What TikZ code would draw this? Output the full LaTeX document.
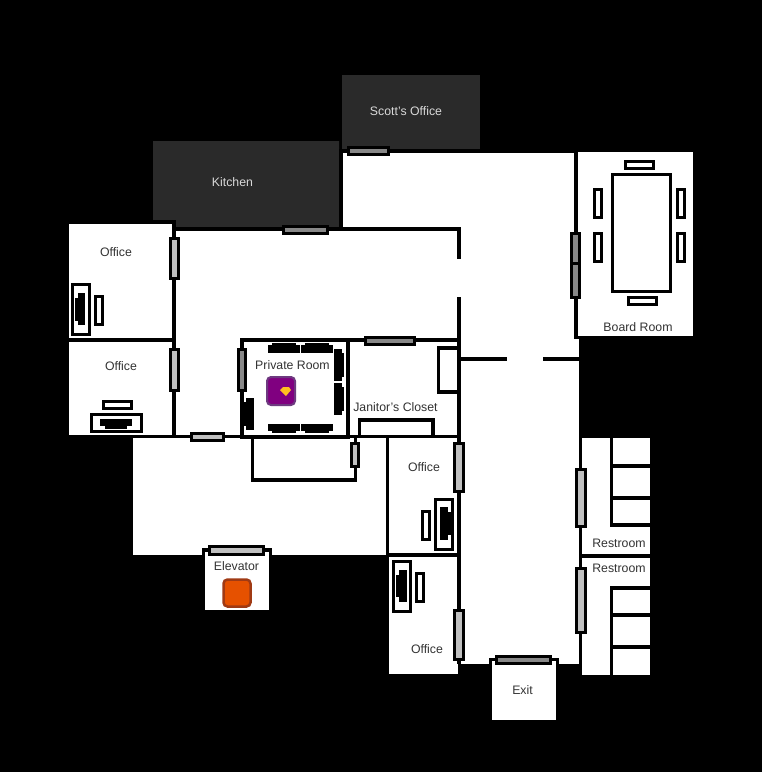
\documentclass[tikz,border=0pt]{standalone}
\usepackage{fontspec}
\setmainfont{Liberation Sans}
\usepackage{tikz}
\usetikzlibrary{positioning}
\definecolor{darkroom}{HTML}{2A2A2A}
\definecolor{doorlight}{HTML}{C0C0C0}
\definecolor{doordark}{HTML}{888888}
\definecolor{labelgray}{HTML}{333333}
\definecolor{iconpurple}{HTML}{800080}
\definecolor{iconedge}{HTML}{6E3A80}
\definecolor{icongold}{HTML}{FFC020}
\definecolor{iconorange}{HTML}{E65100}
\definecolor{iconrust}{HTML}{A03A14}

\begin{document}
\begin{tikzpicture}[x=1pt,y=-1pt,
wall/.style={line width=3.3pt, black, line cap=butt},
item/.style={draw=black, fill=white, line width=3pt},
doorL/.style={draw=black, fill=doorlight, line width=3pt},
doorD/.style={draw=black, fill=doordark, line width=3pt},
lbl/.style={text=labelgray, font=\fontsize{12.3}{14}\selectfont, inner sep=0pt},
lblw/.style={text=white!85!black, font=\fontsize{12.3}{14}\selectfont, inner sep=0pt}]
\useasboundingbox (0,0) rectangle (762,772);
\fill[black] (0,0) rectangle (762,772);
% floor
\fill[white] (69,222) rectangle (175,436);
\fill[white] (175,229) rectangle (459,437);
\fill[white] (133,437) rectangle (388,555);
\fill[white] (388,437) rectangle (459,555);
\fill[white] (341,152) rectangle (579,229);
\fill[white] (459,229) rectangle (579,664);
\fill[white] (576,152) rectangle (693,336);
\fill[white] (579,437.5) rectangle (650,675);
\fill[white] (389,555) rectangle (458,674);
\fill[white] (492,660) rectangle (556,720);
\fill[white] (205,553) rectangle (269,610);
\fill[darkroom] (153,141) -- (339,141) -- (339,228) -- (175,228) -- (175,220) -- (153,220) -- cycle;
\fill[darkroom] (342,75) rectangle (480,149);
% walls
\draw[wall] (153,221.5) -- (175.6,221.5);
\draw[wall] (69,222) -- (174,222);
\draw[wall] (174,220) -- (174,437);
\draw[wall] (69,340) -- (174,340);
\draw[wall] (69,436.5) -- (459,436.5);
\draw[wall] (172.4,229) -- (460.6,229);
\draw[wall] (459,229) -- (459,259);
\draw[wall] (459,297) -- (459,664);
\draw[wall] (341,149) -- (341,229);
\draw[wall] (339.4,151) -- (577.6,151);
\draw[wall] (576,151) -- (576,338);
\draw[wall] (574.4,337.5) -- (579,337.5);
\draw[wall] (459,359) -- (507,359);
\draw[wall] (543,359) -- (582,359);
\draw[wall] (580.5,359) -- (580.5,675);
\draw[wall] (580,556) -- (650,556);
\draw[wall] (242,340) rectangle (348,437);
\draw[wall] (348,340) -- (459,340);
\draw[wall] (438.5,346.4) -- (438.5,393.6);
\draw[wall] (437,392) -- (459,392);
\draw[wall] (437,348) -- (459,348);
\draw[wall] (359.5,436) -- (359.5,418.4);
\draw[wall] (358,420) -- (434.6,420);
\draw[wall] (433,418.4) -- (433,436);
\draw[wall] (252.5,437) -- (252.5,481.6);
\draw[wall] (250.9,480) -- (357.1,480);
\draw[wall] (355.5,481.6) -- (355.5,437);
\draw[wall] (387.5,437) -- (387.5,556);
\draw[wall] (387.5,555) -- (459,555);
% restroom stalls
\draw[wall] (611.5,437) -- (611.5,527);
\draw[wall] (611.5,586) -- (611.5,675);
\foreach \y in {466,498,615,647}{\draw[wall] (611.5,\y) -- (650,\y);}
\draw[wall, line width=4pt] (611.5,525) -- (650,525);
\draw[wall, line width=4pt] (611.5,588) -- (650,588);
% stubs beside exit and elevator
\draw[wall] (490.5,664) -- (490.5,659.5) -- (557.5,659.5) -- (557.5,664);
\draw[wall] (203.5,555) -- (203.5,550) -- (270.5,550) -- (270.5,555);
% doors
\foreach \a/\b/\c/\d in {170.5/238.5/178/278, 170.5/349.5/178/390, 191.5/433.5/223.5/440, 351.5/443.5/358.5/466, 454.5/443.5/463/491, 576.5/469.5/585/526, 576.5/568.5/585/632, 454/610.5/463.5/659, 209.5/546.5/263.5/554.5}{
\draw[doorL] (\a,\b) rectangle (\c,\d);
}
\foreach \a/\b/\c/\d in {283.5/226.5/327.5/233.5, 348.5/147.5/388.5/154.5, 238.5/349.5/245.5/390, 365.5/337.5/414.5/344, 571.5/233.5/579.5/263.5, 571.5/263.5/579.5/297.5, 496.5/656.5/550.5/663.5}{
\draw[doorD] (\a,\b) rectangle (\c,\d);
}
% desks, chairs, table
\foreach \a/\b/\c/\d in {72.5/284.5/89.5/334.5, 95.5/296.5/102.5/324.5, 91.5/414.5/141.5/431.5, 103.5/401.5/131.5/408.5, 435.5/499.5/452.5/549.5, 422.5/511.5/429.5/539.5, 393.5/561.5/410.5/611.5, 416.5/573.5/423.5/601.5, 612.5/174.5/670.5/291.5, 625.5/161.5/653.5/168.5, 628.5/297.5/656.5/304.5, 594.5/189.5/601.5/217.5, 594.5/233.5/601.5/261.5, 677.5/189.5/684.5/217.5, 677.5/233.5/684.5/261.5}{
\draw[item] (\a,\b) rectangle (\c,\d);
}
% monitors and sofas, thin part then thick part
\foreach \a/\b/\c/\d/\e/\f/\g/\h in {
75/298/78/321/78/293/85/325, 105/426/127/429/100/419/132/426,
448/512/451/535/440/507/448/540, 396/575/399/597/399/570/407/602,
272/343/296/345/268/345/300/353, 305/343/329/345/301/345/333/353,
272/431/296/433/268/424/300/431, 305/431/329/433/301/424/333/431,
342/353/344/377/334/349/342/381, 342/387/344/411/334/383/342/415,
244/402/246/426/246/398/254/430}{
\fill[black] (\a,\b) rectangle (\c,\d);
\fill[black] (\e,\f) rectangle (\g,\h);
}
% icons
\draw[fill=iconpurple, draw=iconedge, line width=2pt, rounded corners=4pt] (267,377) rectangle (295,405);
\fill[icongold] (283,387) -- (289,387) -- (291,390) -- (286,396) -- (280,390) -- cycle;
\draw[fill=iconorange, draw=iconrust, line width=2.5pt, rounded corners=4pt] (223.5,579.5) rectangle (250.5,606.5);
% labels
\node[lbl] (officeA) at (116,252) {Office};
\node[lbl] (officeB) at (121,366) {Office};
\node[lbl] (officeC) at (424,467) {Office};
\node[lbl] (officeD) at (427,649) {Office};
\node[lbl] (privateroom) at (292.5,365) {Private Room};
\node[lbl] (closet) at (395.5,407) {Janitor's Closet};
\node[lbl] (restroomA) at (619,543) {Restroom};
\node[lbl] (restroomB) at (619,568) {Restroom};
\node[lbl] (boardroom) at (638,327) {Board Room};
\node[lbl] (exit) at (522.5,690) {Exit};
\node[lbl] (elevator) at (236.5,566) {Elevator};
\node[lblw] (kitchen) at (232.5,182) {Kitchen};
\node[lblw] (scottsoffice) at (406,111) {Scott's Office};
\end{tikzpicture}
\end{document}
